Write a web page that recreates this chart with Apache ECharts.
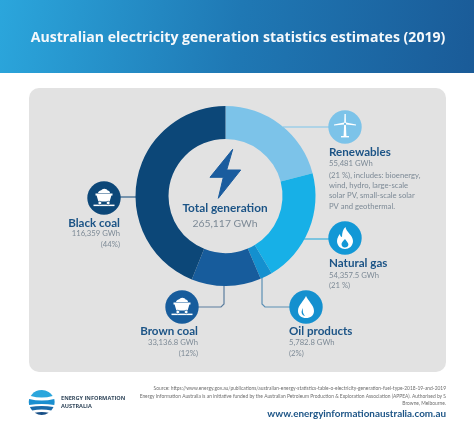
<!DOCTYPE html>
<html>
<head>
<meta charset="utf-8">
<style>
  html, body { margin: 0; padding: 0; background: #fff; }
  #chart { width: 474px; height: 445px; }
</style>
<script src="https://cdn.jsdelivr.net/npm/echarts@6/dist/echarts.min.js"></script>
</head>
<body>
<div id="chart"></div>
<script>
// Data
const categories = ['Renewables', 'Natural gas', 'Oil products', 'Brown coal', 'Black coal'];
const generation = [55481, 54357.5, 5782.8, 33136.8, 116359];
const generationLabels = ['55,481 GWh', '54,357.5 GWh', '5,782.8 GWh', '33,136.8 GWh', '116,359 GWh'];
const shareLabels = ['(21 %)', '(21 %)', '(2%)', '(12%)', '(44%)'];
const renewablesNote = [', includes: bioenergy,', 'wind, hydro, large-scale', 'solar PV, small-scale solar', 'PV and geothermal.'];
const colors = ['#7cc3e9', '#17b0e7', '#1490cf', '#175c9c', '#0c4778'];
const titleText = 'Australian electricity generation statistics estimates (2019)';
const totalLabel = 'Total generation';
const totalValue = '265,117 GWh';
const sourceLines = [
  'Source: https://www.energy.gov.au/publications/australian-energy-statistics-table-o-electricity-generation-fuel-type-2018-19-and-2019',
  'Energy Information Australia is an initiative funded by the Australian Petroleum Production & Exploration Association (APPEA). Authorised by S',
  'Browne, Melbourne.'
];
const siteUrl = 'www.energyinformationaustralia.com.au';
const orgLines = ['ENERGY INFORMATION', 'AUSTRALIA'];

const FONT = 'Lato, "Open Sans", sans-serif';
const NAVY = '#1c5486';
const GREY = '#7d8a96';
const HEAD_SIZE = 11.6;
const BODY_SIZE = 7.7;

const chart = echarts.init(document.getElementById('chart'), null, { renderer: 'canvas' });

const text = (x, y, str, fontSize, fill, align, fontWeight, extra) => ({
  type: 'text',
  x,
  y,
  style: Object.assign({
    text: str,
    fontFamily: FONT,
    fontSize,
    fill,
    align: align || 'left',
    verticalAlign: 'middle',
    fontWeight: fontWeight || 'normal'
  }, extra || {})
});

const line = (points, stroke) => ({
  type: 'polyline',
  shape: { points },
  style: { stroke, lineWidth: 1.2, fill: null }
});

// The graphic component has no path type, so svg paths are registered as shapes
let shapeCount = 0;
const path = (x, y, pathData, fill) => {
  const name = 'iconShape' + shapeCount++;
  echarts.graphic.registerShape(name, echarts.graphic.extendPath(pathData));
  return { type: name, x, y, style: { fill } };
};

// Icons, drawn around the centre of a badge
const cartIcon = (x, y, back) => ({
  type: 'group',
  x,
  y,
  children: [
    path(0, 0, 'M-6 -5 C-5 -8 -3 -7 -2 -8.5 C0 -10 3 -9 3.6 -7.5 C5 -7.5 6 -6.5 6 -5 Z', '#fff'),
    path(0, 0, 'M-8.5 -4.4 H8.5 V-2.6 H7.4 L5.6 3.6 H-5.6 L-7.4 -2.6 H-8.5 Z', '#fff'),
    { type: 'rect', shape: { x: -10.5, y: 6.6, width: 21, height: 1.5 }, style: { fill: '#fff' } },
    { type: 'circle', shape: { cx: -4.2, cy: 5, r: 1.8 }, style: { fill: '#fff', stroke: back, lineWidth: 0.6 } },
    { type: 'circle', shape: { cx: 4.2, cy: 5, r: 1.8 }, style: { fill: '#fff', stroke: back, lineWidth: 0.6 } }
  ]
});

const turbineIcon = (x, y) => ({
  type: 'group',
  x,
  y,
  children: [
    path(0, 0, 'M-0.9 -1 H0.9 L1.4 10 H-1.4 Z', '#fff'),
    { type: 'rect', shape: { x: -4, y: 10, width: 8, height: 1.4 }, style: { fill: '#fff' } },
    path(0, 0, 'M-0.8 -3 L-0.5 -12 L0.8 -12 L0.9 -3 Z', '#fff'),
    path(0, 0, 'M-1 -3.6 L-11 -1.6 L-11 -0.6 L-1 -1.6 Z', '#fff'),
    path(0, 0, 'M1 -3.6 L11 -1.6 L11 -0.6 L1 -1.6 Z', '#fff')
  ]
});

const flameIcon = (x, y, back) => ({
  type: 'group',
  x,
  y,
  children: [
    path(0, 0, 'M0.5 -11 C1 -6 8 -3 8 3 C8 8 4 11 0 11 C-4 11 -8 8 -8 3 C-8 0 -6 -3 -5 -4 C-5 -2 -4 -1 -3 -1 C-3 -5 -2 -9 0.5 -11 Z', '#fff'),
    path(0, 0, 'M0 1 C-2 3 -4 5 -3.4 7 C-3 9 -1 9.6 0 9.6 C1.6 9.6 3.4 8.6 3.4 6.6 C3.4 5 1.4 3 0 1 Z', back)
  ]
});

const dropIcon = (x, y, back) => ({
  type: 'group',
  x,
  y,
  children: [
    path(0, 0, 'M0 -11 C2 -6 8 -2 8 4 C8 8.4 4.4 11 0 11 C-4.4 11 -8 8.4 -8 4 C-8 -2 -2 -6 0 -11 Z', '#fff'),
    path(0, 0, 'M-3 1 C-5 4 -5.2 8 -1 9 C-3 7 -3.6 4 -3 1 Z', back)
  ]
});

const badge = (cx, cy, fill) => ({
  type: 'circle',
  shape: { cx, cy, r: 16.7 },
  style: { fill }
});

const graphicElements = [
  // Header and panel
  {
    type: 'rect',
    shape: { x: 0, y: 0, width: 474, height: 73 },
    style: {
      fill: new echarts.graphic.LinearGradient(0, 0, 1, 1, [
        { offset: 0, color: '#2ba6dc' },
        { offset: 0.5, color: '#1f78b4' },
        { offset: 1, color: '#1a5b98' }
      ])
    }
  },
  {
    type: 'rect',
    shape: { x: 29, y: 88, width: 417, height: 284, r: 10 },
    style: { fill: '#e2e2e2' }
  },

  // Leader lines
  line([[283, 127], [345, 127]], '#7cc3e9'),
  line([[300, 239], [345, 239]], '#17a5dc'),
  line([[104, 197], [140, 197]], colors[4]),
  line([[224, 280], [224, 304], [221, 307], [182, 307]], '#5b7d9e'),
  line([[262, 270], [262, 304], [265, 307], [306, 307]], '#5b8fb4'),

  // Badges
  badge(345, 127, colors[0]),
  turbineIcon(345, 126),
  badge(345, 238, '#1298d6'),
  flameIcon(345, 238, '#1298d6'),
  badge(104, 198, colors[4]),
  cartIcon(104, 198, colors[4]),
  badge(182, 307, colors[3]),
  cartIcon(182, 307, colors[3]),
  badge(306, 307, colors[2]),
  dropIcon(306, 307, colors[2]),

  // Centre of the ring
  {
    type: 'polygon',
    shape: { points: [[232.7, 149.3], [210, 177.3], [223.3, 177.3], [218.3, 198.3], [240.7, 170], [226.7, 170]] },
    style: { fill: '#1a5c9e', stroke: '#1a5c9e', lineWidth: 1, lineJoin: 'round' }
  },
  text(225, 208, totalLabel, 11.8, NAVY, 'center', 'bold'),
  text(225, 224, totalValue, 10.4, GREY, 'center'),

  // Renewables
  text(329, 152, categories[0], HEAD_SIZE, NAVY, 'left', 'bold'),
  text(329, 164, generationLabels[0], BODY_SIZE, GREY),
  text(329, 175.5, shareLabels[0] + renewablesNote[0], BODY_SIZE, GREY),
  text(329, 185.5, renewablesNote[1], BODY_SIZE, GREY),
  text(329, 196, renewablesNote[2], BODY_SIZE, GREY),
  text(329, 206.5, renewablesNote[3], BODY_SIZE, GREY),

  // Natural gas
  text(329, 263, categories[1], HEAD_SIZE, NAVY, 'left', 'bold'),
  text(329, 276, generationLabels[1], BODY_SIZE, GREY),
  text(329, 286, shareLabels[1], BODY_SIZE, GREY),

  // Oil products
  text(289, 331, categories[2], HEAD_SIZE, NAVY, 'left', 'bold'),
  text(289, 343, generationLabels[2], BODY_SIZE, GREY),
  text(289, 354, shareLabels[2], BODY_SIZE, GREY),

  // Brown coal
  text(198, 331, categories[3], HEAD_SIZE, NAVY, 'right', 'bold'),
  text(198, 343, generationLabels[3], BODY_SIZE, GREY, 'right'),
  text(198, 354, shareLabels[3], BODY_SIZE, GREY, 'right'),

  // Black coal
  text(120, 223, categories[4], HEAD_SIZE, NAVY, 'right', 'bold'),
  text(120, 234, generationLabels[4], BODY_SIZE, GREY, 'right'),
  text(120, 245, shareLabels[4], BODY_SIZE, GREY, 'right'),

  // Footer logo
  {
    type: 'group',
    x: 41.7,
    y: 402,
    children: [
      path(0, 0, 'M-11 -6 A13 13 0 0 1 11 -6 Q0 -3 -11 -6 Z', '#2ba6dc'),
      path(0, 0, 'M-12.6 -3 Q0 0 12.6 -3 A13 13 0 0 1 12.6 3 Q0 1 -12.6 3 A13 13 0 0 1 -12.6 -3 Z', '#1a8fd0'),
      path(0, 0, 'M-11.8 5 Q0 3 11.8 5 A13 13 0 0 1 9.5 8.5 Q0 6.5 -9.5 8.5 A13 13 0 0 1 -11.8 5 Z', '#1a6aa8'),
      path(0, 0, 'M-7 10.8 Q0 9 7 10.8 A13 13 0 0 1 -7 10.8 Z', '#174f86')
    ]
  },
  text(61, 398, orgLines[0], 5.6, '#33485c', 'left', 'bold', { fontFamily: '"Open Sans", sans-serif' }),
  text(61, 406, orgLines[1], 5.6, '#33485c', 'left', 'bold', { fontFamily: '"Open Sans", sans-serif' }),

  // Footer text
  text(446, 388.5, sourceLines[0], 4.9, '#6d6d6d', 'right'),
  text(446, 396, sourceLines[1], 4.9, '#6d6d6d', 'right'),
  text(446, 403.5, sourceLines[2], 4.9, '#6d6d6d', 'right'),
  text(446, 414, siteUrl, 9.9, NAVY, 'right', 'bold')
];

chart.setOption({
  animation: false,
  backgroundColor: '#fff',
  title: {
    text: titleText,
    left: 233,
    top: 24,
    textAlign: 'center',
    textStyle: {
      color: '#f4f8fb',
      fontFamily: '"Open Sans", sans-serif',
      fontSize: 14.1,
      fontWeight: 'bold',
      lineHeight: 18
    }
  },
  graphic: { elements: graphicElements },
  series: [
    {
      type: 'pie',
      center: [225.5, 196],
      radius: [57, 90],
      startAngle: 90,
      clockwise: true,
      silent: true,
      label: { show: false },
      labelLine: { show: false },
      data: categories.map((name, i) => ({
        name,
        value: generation[i],
        itemStyle: { color: colors[i] }
      }))
    }
  ]
});
</script>
</body>
</html>
